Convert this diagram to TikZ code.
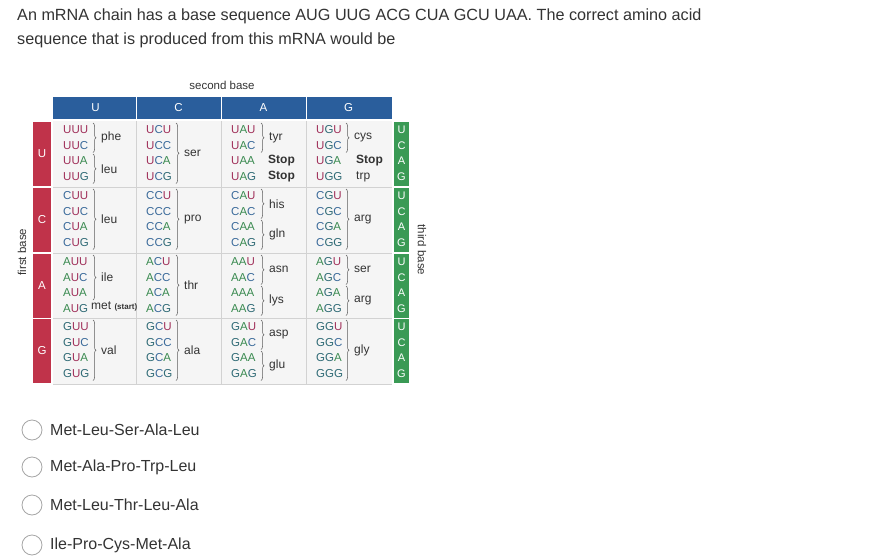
\documentclass[tikz,border=0pt]{standalone}
\usepackage{fontspec}
\setmainfont{Liberation Sans}
\usetikzlibrary{decorations.pathreplacing}
\definecolor{cU}{HTML}{A0305A}
\definecolor{cC}{HTML}{3A6A9A}
\definecolor{cA}{HTML}{3A8A50}
\definecolor{cG}{HTML}{2F6A75}
\definecolor{hdr}{HTML}{2A5E9C}
\definecolor{redc}{HTML}{C0334A}
\definecolor{grnc}{HTML}{3A9A55}
\definecolor{txt}{HTML}{333333}
\newcommand\bs[1]{\textcolor{c#1}{#1}}
\newcommand\cdn[3]{\bs{#1}\bs{#2}\bs{#3}}
\tikzset{
  tb/.style={font=\fontsize{11.5}{12}\selectfont, inner sep=0pt, anchor=west},
  aa/.style={font=\fontsize{12}{12}\selectfont, inner sep=0pt, anchor=west, text=txt},
  br/.style={decorate, decoration={brace, amplitude=3pt}, draw=txt!80, line width=0.5pt},
  q/.style={font=\fontsize{16.2}{16}\selectfont, text=txt, inner sep=0pt, anchor=west},
  rad/.style={draw=gray!70, fill=white, line width=0.8pt}
}
\begin{document}
\begin{tikzpicture}[x=1pt,y=-1pt]
\useasboundingbox (0,0) rectangle (884,557);
\node[q] (t1) at (17,16) {An mRNA chain has a base sequence AUG UUG ACG CUA GCU UAA. The correct amino acid};
\node[q] (t2) at (17,40) {sequence that is produced from this mRNA would be};
% table
\fill[gray!8] (53,121) rectangle (392,384);
\fill[hdr] (53,97) rectangle (392,119);
\node[font=\fontsize{11.5}{12}\selectfont, text=txt] (sb) at (222,85) {second base};
\node[font=\fontsize{11.5}{12}\selectfont, text=txt, rotate=90] (fb) at (22,252) {first base};
\node[font=\fontsize{11.5}{12}\selectfont, text=txt, rotate=-90] (thb) at (422,250) {third base};
\foreach \l/\x in {U/53,C/136,A/221,G/306}{
  \node[font=\fontsize{11.5}{12}\selectfont, text=white] (h\l) at (\x+42.5,108) {\l};
}
\foreach \x in {136,221,306}{\draw[white, line width=1pt] (\x,97) -- (\x,119);
  \draw[gray!35, line width=0.8pt] (\x,121) -- (\x,384);}
\foreach \l/\y in {U/121,C/187,A/253,G/318}{
  \fill[redc] (33,\y+1) rectangle (51,\y+65);
  \node[font=\fontsize{11.5}{12}\selectfont, text=white] (r\l) at (42,\y+33) {\l};
  \fill[grnc] (394,\y+1) rectangle (409,\y+65);
  \foreach \k/\i in {U/0,C/1,A/2,G/3}{
    \node[font=\fontsize{11}{12}\selectfont, text=white] (g\l\k) at (401.5,\y+9+15.5*\i) {\k};}
}
\foreach \y in {187,253,318}{\draw[gray!35, line width=0.8pt] (53,\y) -- (392,\y);}
\draw[gray!35, line width=0.8pt] (53,384) -- (392,384);
% codons
\foreach \f/\y in {U/121,C/187,A/253,G/318}{
  \foreach \s/\x in {U/53,C/136,A/221,G/306}{
    \foreach \t/\i in {U/0,C/1,A/2,G/3}{
      \node[tb] (c\f\s\t) at (\x+10,\y+9+15.5*\i) {\cdn{\f}{\s}{\t}};
    }
  }
}
% braces
\foreach \f/\y/\s/\x/\a/\b/\lab in {
  U/121/U/53/0/1/phe, U/121/U/53/2/3/leu, C/187/U/53/0/3/leu, A/253/U/53/0/2/ile, G/318/U/53/0/3/val,
  U/121/C/136/0/3/ser, C/187/C/136/0/3/pro, A/253/C/136/0/3/thr, G/318/C/136/0/3/ala,
  U/121/A/221/0/1/tyr, C/187/A/221/0/1/his, C/187/A/221/2/3/gln, A/253/A/221/0/1/asn, A/253/A/221/2/3/lys, G/318/A/221/0/1/asp, G/318/A/221/2/3/glu,
  U/121/G/306/0/1/cys, C/187/G/306/0/3/arg, A/253/G/306/0/1/ser, A/253/G/306/2/3/arg, G/318/G/306/0/3/gly}{
  \draw[br] (\x+40,\y+2+15.5*\a) -- (\x+40,\y+16+15.5*\b) coordinate[midway] (m\f\s\a);
  \node[aa] (l\f\s\a) at (\x+48,\y+9+15.5*\a/2+15.5*\b/2) {\lab};
}
\node[aa] (met) at (91,306) {met \fontsize{8}{9}\selectfont\bfseries(start)};
\node[aa, font=\fontsize{12}{12}\selectfont\bfseries] (s1) at (268,161) {Stop};
\node[aa, font=\fontsize{12}{12}\selectfont\bfseries] (s2) at (268,176.5) {Stop};
\node[aa, font=\fontsize{12}{12}\selectfont\bfseries] (s3) at (356,161) {Stop};
\node[aa] (trp) at (356,176.5) {trp};
% options
\foreach \y/\t [count=\n] in {430/Met-Leu-Ser-Ala-Leu, 467/Met-Ala-Pro-Trp-Leu, 505/Met-Leu-Thr-Leu-Ala, 545/Ile-Pro-Cys-Met-Ala}{
  \draw[rad] (32,\y) circle (10);
  \node[q, font=\fontsize{16}{16}\selectfont] (o\n) at (50,\y) {\t};
}
\end{tikzpicture}
\end{document}
